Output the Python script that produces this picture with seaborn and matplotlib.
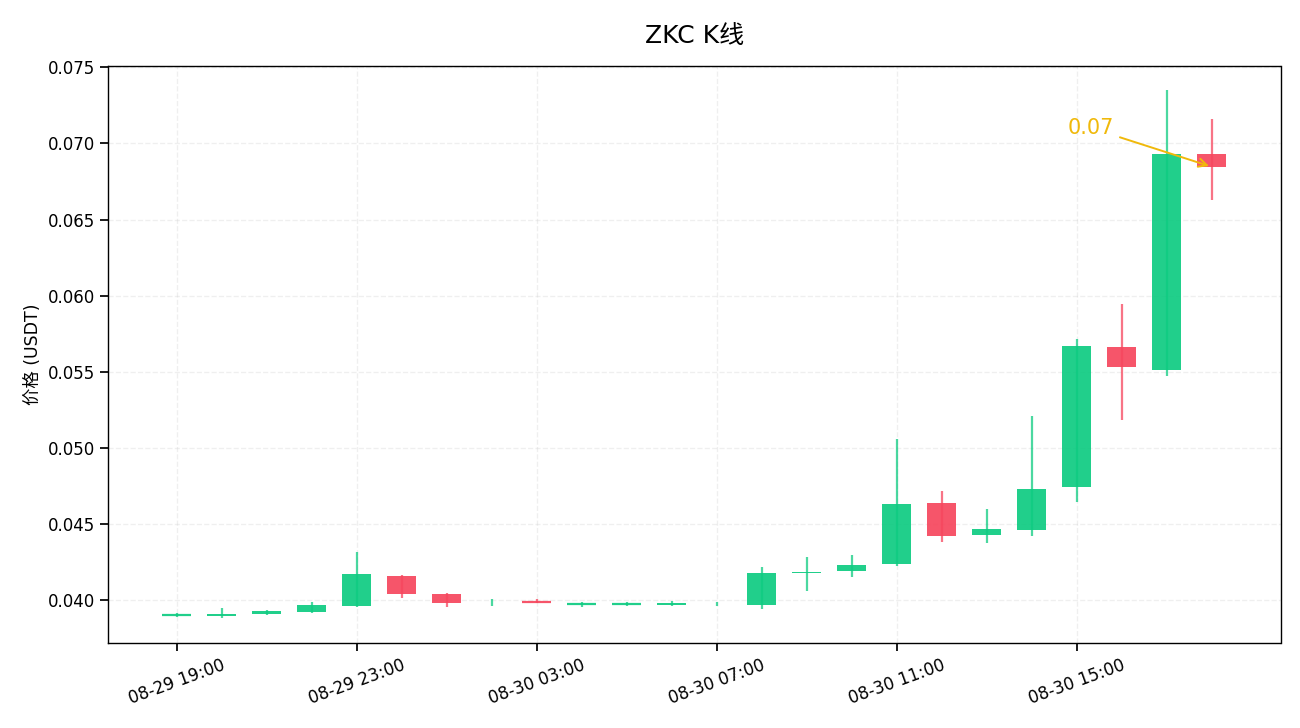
import numpy as np
import pandas as pd
import matplotlib
matplotlib.use("Agg")
import matplotlib.pyplot as plt
import matplotlib.dates as mdates
import seaborn as sns

# datos de velas (1h)
times = pd.date_range("2025-08-29 19:00", periods=24, freq="h")
opens = [0.03902, 0.03898, 0.03911, 0.03925, 0.03964, 0.04161, 0.04043, 0.03985,
         0.03990, 0.03974, 0.03974, 0.03970, 0.03978, 0.03972, 0.04183, 0.04196,
         0.04241, 0.04640, 0.04432, 0.04465, 0.04747, 0.05664, 0.05515, 0.06930]
closes = [0.03904, 0.03910, 0.03931, 0.03970, 0.04174, 0.04043, 0.03984, 0.03985,
          0.03987, 0.03976, 0.03976, 0.03983, 0.03978, 0.04180, 0.04189, 0.04233,
          0.04633, 0.04425, 0.04469, 0.04732, 0.05670, 0.05534, 0.06930, 0.06846]
highs = [0.03918, 0.03951, 0.03938, 0.03990, 0.04318, 0.04167, 0.04049, 0.04010,
         0.04010, 0.03990, 0.03990, 0.03997, 0.03990, 0.04220, 0.04285, 0.04299,
         0.05060, 0.04718, 0.04600, 0.05213, 0.05716, 0.05946, 0.07350, 0.07159]
lows = [0.03894, 0.03887, 0.03905, 0.03918, 0.03957, 0.04016, 0.03957, 0.03964,
        0.03982, 0.03959, 0.03966, 0.03966, 0.03966, 0.03944, 0.04062, 0.04156,
        0.04228, 0.04386, 0.04379, 0.04425, 0.04648, 0.05184, 0.05475, 0.06630]

df = pd.DataFrame({"time": times, "open": opens, "close": closes,
                   "high": highs, "low": lows})

sns.set_theme(style="ticks")
plt.rcParams['font.family'] = ['DejaVu Sans', 'Noto Sans CJK SC']
plt.rcParams['axes.unicode_minus'] = False
plt.rcParams['text.color'] = 'black'
plt.rcParams['axes.labelcolor'] = 'black'

verde = "#0ECB81"
rojo = "#F6465D"
colores = np.where(df["close"] >= df["open"], verde, rojo)

fig, ax = plt.subplots(figsize=(13, 7.28), dpi=100)
fig.subplots_adjust(left=0.083, right=0.985, top=0.909, bottom=0.117)

ancho = 0.64 / 24
# mechas
ax.vlines(df["time"], df["low"], df["high"], colors=colores, linewidth=1.6, alpha=0.75)
# cuerpos
cuerpo = (df["close"] - df["open"]).abs()
base = df[["open", "close"]].min(axis=1)
ax.bar(df["time"], cuerpo, bottom=base, width=ancho, color=colores, alpha=0.92,
       linewidth=0)
# doji: linea fina
for t, b, h, c in zip(df["time"], base, cuerpo, colores):
    if 0 < h < 0.00005:
        ax.hlines(b, t - pd.Timedelta(hours=0.32), t + pd.Timedelta(hours=0.32),
                  colors=c, linewidth=1.6, alpha=0.92)

# anotacion del ultimo precio
ultimo = df.iloc[-1]
ax.annotate(f"{ultimo['close']:.2f}", xy=(ultimo["time"], ultimo["close"]),
            xytext=(-87, 28), textcoords="offset points", ha="center", va="center",
            fontsize=15, color="#F0B90B",
            arrowprops=dict(arrowstyle="->", color="#F0B90B", lw=1.4))

ax.set_xlim(times[0] - pd.Timedelta(hours=1.53), times[-1] + pd.Timedelta(hours=1.53))
ax.set_ylim(0.03722, 0.07506)
ax.set_xticks(times[::4])
ax.xaxis.set_major_formatter(mdates.DateFormatter("%m-%d %H:%M"))
plt.xticks(rotation=20)
ax.yaxis.set_major_formatter(matplotlib.ticker.FormatStrFormatter("%.3f"))
ax.tick_params(labelsize=12, colors="black")

ax.grid(True, linestyle="--", alpha=0.3)
for s in ax.spines.values():
    s.set_color("black")
    s.set_linewidth(1.0)

ax.set_title("ZKC K线", fontsize=18, pad=17, color="black")
ax.set_ylabel("价格 (USDT)", fontsize=12.5, color="black")

plt.savefig("out.png", dpi=100)
